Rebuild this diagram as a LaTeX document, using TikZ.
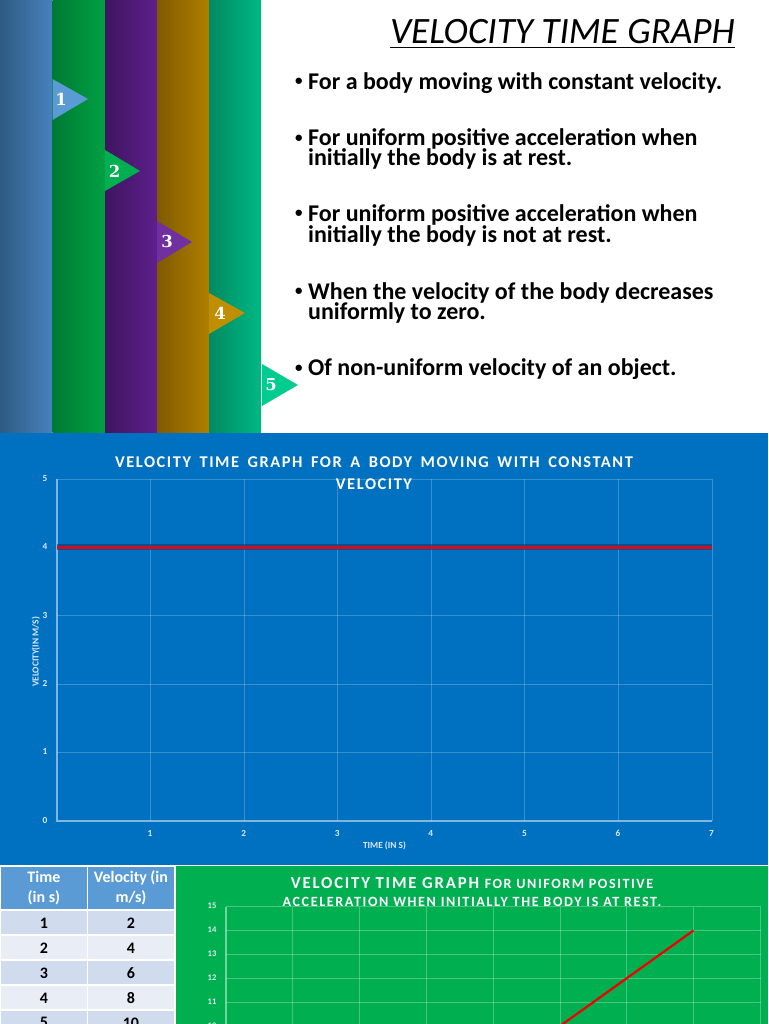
\documentclass[tikz,border=0pt]{standalone}
\usepackage{fontspec}
\setmainfont{Carlito}
\newfontfamily\numfont{DejaVu Serif}
\definecolor{cblue}{HTML}{0070C0}
\definecolor{cgreen}{HTML}{00B050}
\definecolor{thead}{HTML}{5B9BD5}
\definecolor{trowa}{HTML}{D0DBEE}
\definecolor{trowb}{HTML}{E9EDF6}
\definecolor{tickb}{HTML}{DCE9F5}
\definecolor{a1}{HTML}{2E5A82}\definecolor{a2}{HTML}{4682BE}
\definecolor{b1}{HTML}{007A33}\definecolor{b2}{HTML}{00A044}
\definecolor{c1}{HTML}{3F1560}\definecolor{c2}{HTML}{5E1F8C}
\definecolor{d1}{HTML}{7F5A00}\definecolor{d2}{HTML}{B07F00}
\definecolor{e1}{HTML}{008A60}\definecolor{e2}{HTML}{00B884}
\definecolor{t1}{HTML}{5B9BD5}\definecolor{t2}{HTML}{00B050}
\definecolor{t3}{HTML}{7030A0}\definecolor{t4}{HTML}{BF8F00}
\definecolor{t5}{HTML}{00CC90}
\definecolor{lshadow}{HTML}{1F3A70}
\definecolor{lred}{HTML}{CC1020}
\tikzset{
  x=1pt,y=-1pt,
  bartxt/.style={font=\fontsize{24}{24}\selectfont\bfseries,anchor=base west,text=black,inner sep=0pt},
  dot/.style={font=\fontsize{15}{15}\selectfont\bfseries,anchor=base west,text=black,inner sep=0pt},
  numtxt/.style={font=\fontsize{16.5}{17}\selectfont\numfont\bfseries,text=white,inner sep=0pt},
  gridb/.style={draw=white,draw opacity=.22,line width=.9pt},
  gridg/.style={draw=white,draw opacity=.28,line width=.8pt},
  axisw/.style={draw=white,draw opacity=.5,line width=1.1pt},
  ticktxt/.style={font=\fontsize{9.3}{9}\selectfont\bfseries,text=tickb,inner sep=0pt},
  thd/.style={fill=thead,minimum width=85.5pt,minimum height=41.5pt,inner sep=0pt,text=white,align=center,
     font=\fontsize{16}{20}\selectfont\bfseries,anchor=north west},
  tcell/.style={minimum width=85.5pt,minimum height=23.2pt,inner sep=0pt,text=black,
     font=\fontsize{16}{16}\selectfont\bfseries,anchor=north west},
  chtitle/.style={text=white,inner sep=0pt,anchor=base},
}
\begin{document}
\begin{tikzpicture}
\useasboundingbox (0,0) rectangle (768,1024);
\clip (0,0) rectangle (768,1024);
\fill[white] (0,0) rectangle (768,1024);
% colour bars
\shade[left color=a1,right color=a2] (0,0) rectangle (52.5,432);
\shade[left color=b1,right color=b2] (52.5,0) rectangle (105,432);
\shade[left color=c1,right color=c2] (105,0) rectangle (157,432);
\shade[left color=d1,right color=d2] (157,0) rectangle (209,432);
\shade[left color=e1,right color=e2] (209,0) rectangle (261,432);
% tabs
\fill[t1] (52.5,79) -- (88,99) -- (52.5,120) -- cycle;
\fill[t2] (105,150) -- (140,171) -- (105,191) -- cycle;
\fill[t3] (157,221) -- (192,242) -- (157,263) -- cycle;
\fill[t4] (209,293) -- (245,313) -- (209,334) -- cycle;
\fill[t5] (262,364) -- (298,385) -- (262,406) -- cycle;
\node[numtxt] (n1) at (61,99.5) {1};
\node[numtxt] (n2) at (114.5,171) {2};
\node[numtxt] (n3) at (167,241) {3};
\node[numtxt] (n4) at (220,313.5) {4};
\node[numtxt] (n5) at (271,385) {5};
% title and bullets
\node[inner sep=0pt,anchor=base,font=\fontsize{37.2}{38}\selectfont\itshape] (title) at (562.5,43.5) {VELOCITY TIME GRAPH};
\draw[line width=1.6pt] (390,47.5) -- (735,47.5);
\node[dot] (b1a) at (295,86) {•};\node[bartxt] (b1t) at (308,90) {For a body moving with constant velocity.};
\node[dot] (b2a) at (295,143) {•};\node[bartxt] (b2t) at (308,146) {For uniform positive acceleration when};
\node[bartxt] (b2u) at (308,166) {initially the body is at rest.};
\node[dot] (b3a) at (295,218) {•};\node[bartxt] (b3t) at (308,222) {For uniform positive acceleration when};
\node[bartxt] (b3u) at (308,242) {initially the body is not at rest.};
\node[dot] (b4a) at (295,295) {•};\node[bartxt] (b4t) at (308,299) {When the velocity of the body decreases};
\node[bartxt] (b4u) at (308,319) {uniformly to zero.};
\node[dot] (b5a) at (295,372) {•};\node[bartxt] (b5t) at (308,375) {Of non-uniform velocity of an object.};
% blue chart
\fill[cblue] (0,433) rectangle (768,865);
\foreach \i in {1,...,7}{\draw[gridb] ({57+93.57*\i},479) -- ({57+93.57*\i},821);}
\foreach \j in {1,...,5}{\draw[gridb] (57,{821-68.4*\j}) -- (712,{821-68.4*\j});}
\draw[axisw] (57,479) -- (57,821) -- (712,821);
\foreach \j in {0,...,5}{\node[ticktxt] (by\j) at (45,{820-68.3*\j}) {\j};}
\foreach \i in {1,...,7}{\node[ticktxt] (bx\i) at ({56.5+93.57*\i},833.5) {\i};}
\node[ticktxt,rotate=90] (bya) at (36,652) {VELOCITY(IN M/S)};
\node[ticktxt] (bxa) at (384.5,845.5) {TIME (IN S)};
\node[chtitle,font=\fontsize{16.4}{16}\selectfont\bfseries\addfontfeature{LetterSpace=9.5}] (bt1) at (374,467.5) {\spaceskip=8.5pt VELOCITY TIME GRAPH FOR A BODY MOVING WITH CONSTANT};
\node[chtitle,font=\fontsize{16.4}{16}\selectfont\bfseries\addfontfeature{LetterSpace=9.5}] (bt2) at (374,489) {VELOCITY};
\coordinate (ls) at (57,547);
\coordinate (le) at (712,547);
\draw[draw=lshadow,draw opacity=.65,line width=6pt] (ls) -- (le);
\draw[draw=lred,line width=3pt] (ls) -- (le);
% table
\fill[white] (0,865) rectangle (176,1024);
\node[thd] (h1) at (1,867) {Time\\(in s)};
\node[thd] (h2) at (88,867) {Velocity (in\\m/s)};
\node[tcell,fill=trowa] (r1a) at (1,911) {1};\node[tcell,fill=trowa] (r1b) at (88,911) {2};
\node[tcell,fill=trowb] (r2a) at (1,936) {2};\node[tcell,fill=trowb] (r2b) at (88,936) {4};
\node[tcell,fill=trowa] (r3a) at (1,961) {3};\node[tcell,fill=trowa] (r3b) at (88,961) {6};
\node[tcell,fill=trowb] (r4a) at (1,986) {4};\node[tcell,fill=trowb] (r4b) at (88,986) {8};
\node[tcell,fill=trowa] (r5a) at (1,1011) {5};\node[tcell,fill=trowa] (r5b) at (88,1011) {10};
% green chart
\fill[cgreen] (176,865.5) rectangle (768,1024);
\foreach \i in {1,...,8}{\draw[gridg] ({226+66.8*\i},906.5) -- ({226+66.8*\i},1030);}
\foreach \j in {15,14,13,12,11,10}{\draw[gridg] (226,{906.5+23.9*(15-\j)}) -- (760.5,{906.5+23.9*(15-\j)});}
\draw[axisw,draw opacity=.45] (226,906.5) -- (226,1030);
\foreach \j in {15,14,13,12,11,10}{\node[ticktxt,font=\fontsize{8.6}{9}\selectfont\bfseries] (gy\j) at (212,{905.5+24*(15-\j)}) {\j};}
\coordinate (gs) at ({226+66.8*5},{906.5+23.9*5});
\coordinate (ge) at ({226+66.8*7},{906.5+23.9});
\draw[draw=red!95!black,line width=2.2pt] (gs) -- (ge);
\node[chtitle] (gt1) at (472,888) {\fontsize{16.7}{17}\selectfont\bfseries\addfontfeature{LetterSpace=11}VELOCITY TIME GRAPH {\fontsize{14.1}{17}\selectfont FOR UNIFORM POSITIVE}};
\node[chtitle,font=\fontsize{14.1}{16}\selectfont\bfseries\addfontfeature{LetterSpace=11.5}] (gt2) at (472,906.5) {ACCELERATION WHEN INITIALLY THE BODY IS AT REST.};
\end{tikzpicture}
\end{document}
